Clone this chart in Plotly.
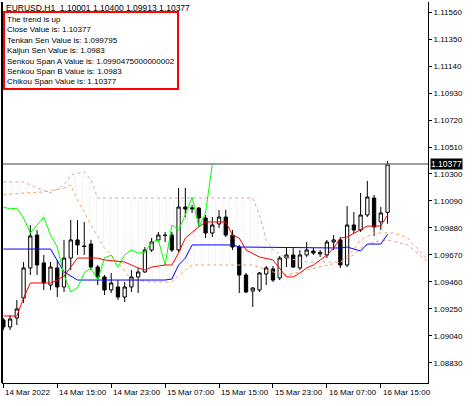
import plotly.graph_objects as go

opens = [1.09164,1.09110,1.09180,1.09335,1.09569,1.09825,1.09608,1.09436,1.09569,1.09421,
         1.09646,1.09787,1.09740,1.09755,1.09576,1.09499,1.09398,1.09421,1.09343,1.09421,
         1.09499,1.09538,1.09709,1.09787,1.09825,1.09825,1.09709,1.10043,1.10028,1.10035,
         1.09958,1.09841,1.09911,1.09965,1.09825,1.09732,1.09514,1.09390,1.09398,1.09522,
         1.09561,1.09491,1.09646,1.09670,1.09569,1.09670,1.09701,1.09678,1.09670,1.09771,
         1.09787,1.09592,1.09903,1.09864,1.09981,1.10113,1.09927,1.10001]
highs = [1.09180,1.09203,1.09320,1.09615,1.09903,1.09864,1.09670,1.09615,1.09631,1.09787,
         1.09942,1.09942,1.09927,1.09787,1.09592,1.09514,1.09530,1.09475,1.09460,1.09553,
         1.09569,1.09732,1.09802,1.09849,1.09849,1.09849,1.10191,1.10191,1.10059,1.10043,
         1.09981,1.09965,1.10020,1.10020,1.09864,1.09748,1.09530,1.09421,1.09538,1.09584,
         1.09584,1.09662,1.09732,1.09732,1.09709,1.09771,1.09724,1.09709,1.09787,1.09825,
         1.09810,1.10051,1.10004,1.10152,1.10246,1.10137,1.10043,1.10400]
lows = [1.09086,1.09086,1.09125,1.09296,1.09514,1.09514,1.09398,1.09398,1.09343,1.09382,
        1.09553,1.09670,1.09670,1.09553,1.09436,1.09359,1.09374,1.09320,1.09304,1.09382,
        1.09374,1.09530,1.09693,1.09771,1.09771,1.09693,1.09693,1.09965,1.09997,1.09903,
        1.09802,1.09810,1.09880,1.09810,1.09709,1.09374,1.09374,1.09265,1.09382,1.09436,
        1.09460,1.09475,1.09576,1.09569,1.09553,1.09654,1.09670,1.09654,1.09646,1.09709,
        1.09569,1.09576,1.09841,1.09849,1.09965,1.09818,1.09864,1.09913]
closes = [1.09110,1.09172,1.09250,1.09569,1.09818,1.09592,1.09452,1.09576,1.09421,1.09646,
          1.09787,1.09748,1.09736,1.09576,1.09499,1.09398,1.09452,1.09343,1.09421,1.09499,
          1.09538,1.09709,1.09771,1.09825,1.09822,1.09709,1.10043,1.10028,1.10035,1.09958,
          1.09841,1.09903,1.09965,1.09825,1.09732,1.09514,1.09382,1.09413,1.09530,1.09569,
          1.09475,1.09646,1.09670,1.09576,1.09670,1.09709,1.09685,1.09690,1.09771,1.09787,
          1.09592,1.09903,1.09864,1.09981,1.10121,1.09888,1.09997,1.10377]

tenkan_x = [0,2,3,4,7,8,9,10,11,14,15,18,20,21,22,24,25,26,27,29,30,33,34,35,36,38,40,42,43,44,45,46,48,49,50,51,54,56,57]
tenkan_y = [1.09195,1.09195,1.09335,1.09452,1.09452,1.09475,1.09506,1.09576,1.09646,1.09646,
            1.09631,1.09615,1.09569,1.09553,1.09576,1.09592,1.09592,1.09685,1.09802,1.09888,
            1.09927,1.09927,1.09825,1.09802,1.09709,1.09654,1.09631,1.09499,1.09499,1.09530,
            1.09569,1.09592,1.09670,1.09724,1.09802,1.09810,1.09895,1.09895,1.09980]
kijun_x = [0,7,9,11,24,25,26,27,28,34,35,50,51,53,54,56,57]
kijun_y = [1.09716,1.09716,1.09538,1.09475,1.09475,1.09483,1.09592,1.09646,1.09748,1.09748,
           1.09732,1.09724,1.09732,1.09701,1.09755,1.09755,1.09830]
spanb_x = [0,3,5,7,9,10,12,13,14,37,38,39,40,42,45,50,52,53,55,57,60,63]
spanb_y = [1.10238,1.10238,1.10191,1.10152,1.10214,1.10292,1.10316,1.10253,1.10113,1.10113,
           1.09981,1.09787,1.09709,1.09646,1.09615,1.09615,1.09670,1.09724,1.09771,1.09787,
           1.09748,1.09615]
spana_x = [0,3,6,9,10,11,13,15,17,19,22,25,27,28,37,40,42,45,48,50,52,53,55,58,60,62,63]
spana_y = [1.10137,1.10152,1.10160,1.10191,1.10214,1.10098,1.09903,1.09724,1.09615,1.09475,
           1.09460,1.09460,1.09553,1.09592,1.09592,1.09538,1.09514,1.09553,1.09592,1.09615,
           1.09709,1.09787,1.09841,1.09841,1.09802,1.09693,1.09631]
shift = 26
chikou_x = list(range(len(closes) - shift))
chikou_y = closes[shift:]

tick_idx = [0, 8, 16, 24, 32, 40, 48, 56]
tick_labels = ["14 Mar 2022", "14 Mar 15:00", "14 Mar 23:00", "15 Mar 07:00",
               "15 Mar 15:00", "15 Mar 23:00", "16 Mar 07:00", "16 Mar 15:00"]
price_ticks = [1.11560, 1.11350, 1.11140, 1.10930, 1.10720, 1.10510, 1.10300, 1.10090,
               1.09880, 1.09670, 1.09460, 1.09250, 1.09040, 1.08830]
info_lines = ["The trend is up", "Close Value is: 1.10377", "Tenkan Sen Value is: 1.099795",
              "Kaijun Sen Value is: 1.0983", "Senkou Span A Value is: 1.0990475000000002",
              "Senkou Span B Value is: 1.0983", "Chikou Span Value is: 1.10377"]
header = "EURUSD,H1  1.10001 1.10400 1.09913 1.10377"

FONT = "Liberation Sans"
fig = go.Figure()
# cloud hatch: polygon between span A and span B
fig.add_trace(go.Scatter(x=spana_x + spanb_x[::-1], y=spana_y + spanb_y[::-1], mode="none",
                         fill="toself", fillcolor="rgba(0,0,0,0)",
                         fillpattern=dict(shape="|", fgcolor="rgba(205,170,170,0.5)",
                                          bgcolor="rgba(0,0,0,0)", size=7, solidity=0.08)))
fig.add_trace(go.Scatter(x=spana_x, y=spana_y, mode="lines",
                         line=dict(color="#F4A460", width=1, dash="dot")))
fig.add_trace(go.Scatter(x=spanb_x, y=spanb_y, mode="lines",
                         line=dict(color="#D8A8A8", width=1, dash="dot")))
fig.add_trace(go.Scatter(x=kijun_x, y=kijun_y, mode="lines", line=dict(color="#0000FF", width=1)))
fig.add_trace(go.Scatter(x=chikou_x, y=chikou_y, mode="lines", line=dict(color="#00FF00", width=1)))
fig.add_trace(go.Scatter(x=tenkan_x, y=tenkan_y, mode="lines", line=dict(color="#FF0000", width=1)))
fig.add_trace(go.Candlestick(x=list(range(len(closes))), open=opens, high=highs, low=lows, close=closes,
                             increasing=dict(fillcolor="white", line=dict(color="black", width=1)),
                             decreasing=dict(fillcolor="black", line=dict(color="black", width=1)),
                             whiskerwidth=0))

fig.add_hline(y=closes[-1], line=dict(color="#808080", width=1.5))
fig.add_shape(type="line", xref="paper", yref="paper", x0=0, x1=0, y0=0, y1=1,
              line=dict(color="black", width=2))

for i, t in zip(tick_idx, tick_labels):
    fig.add_annotation(x=i, y=0, yref="paper", yshift=-3, text=t, showarrow=False,
                       xanchor="left", yanchor="top", xshift=0,
                       font=dict(family=FONT, size=8, color="black"))
fig.add_annotation(x=1, xref="paper", y=closes[-1], text=f"{closes[-1]:.5f}", showarrow=False,
                   xanchor="left", xshift=2, bgcolor="black",
                   font=dict(family=FONT, size=8.5, color="white"), borderpad=0)
fig.add_annotation(x=0, xref="paper", y=1, yref="paper", text=header, showarrow=False,
                   xanchor="left", yanchor="top", xshift=2, yshift=1,
                   font=dict(family=FONT, size=8.5, color="black"))
fig.add_annotation(x=0, xref="paper", y=1, yref="paper", text="<br>".join(info_lines),
                   showarrow=False, xanchor="left", yanchor="top", align="left",
                   xshift=1, yshift=-9, bordercolor="#FF0000", borderwidth=2, borderpad=2,
                   bgcolor="white",
                   font=dict(family=FONT, size=8, color="black"))

fig.update_layout(
    width=474, height=406, showlegend=False, plot_bgcolor="white", paper_bgcolor="white",
    margin=dict(l=2, r=46, t=2, b=23),
    xaxis=dict(range=[-0.2, 63], showgrid=False, zeroline=False, rangeslider=dict(visible=False),
               showline=True, linecolor="black", linewidth=1, tickvals=tick_idx, ticktext=[""] * 8,
               ticks="outside", ticklen=4, tickcolor="black"),
    yaxis=dict(range=[1.08674, 1.11638], side="right", showgrid=False, zeroline=False,
               showline=True, linecolor="black", linewidth=1, tickvals=price_ticks,
               ticktext=[f"{p:.5f}" for p in price_ticks], ticks="outside", ticklen=3,
               tickcolor="black", tickfont=dict(family=FONT, size=8, color="black")),
)
fig.write_html("out.html", config={"displayModeBar": False},
               post_script="document.body.style.margin='0';document.body.style.overflow='hidden';")
